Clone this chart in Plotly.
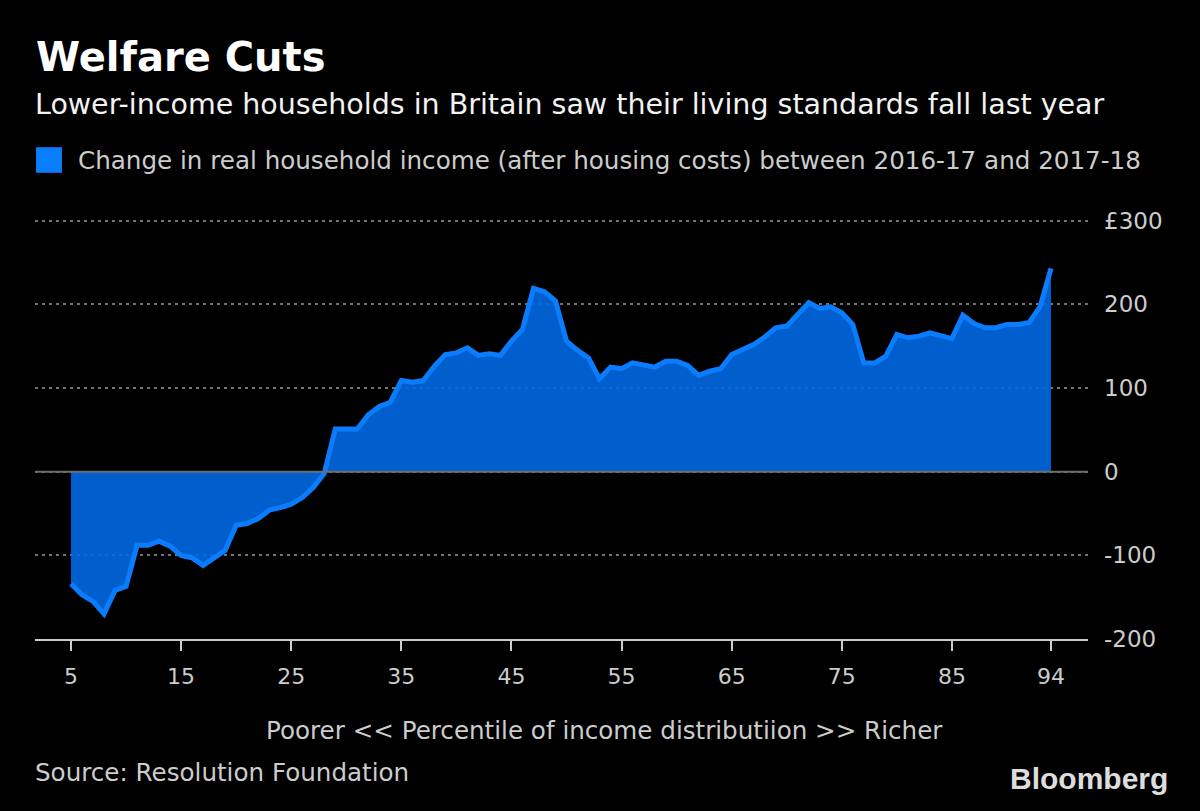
import plotly.graph_objects as go

percentile = list(range(5, 95))
income_change = [
    -134, -147, -155, -170, -142, -137, -88, -88, -83, -89,
    -100, -103, -112, -103, -94, -64, -62, -56, -46, -43,
    -39, -31, -19, -2, 51, 51, 51, 68, 78, 83,
    109, 107, 109, 126, 140, 142, 148, 139, 141, 139,
    156, 170, 219, 215, 204, 156, 145, 136, 111, 125,
    123, 130, 128, 125, 132, 132, 127, 115, 120, 123,
    140, 146, 152, 161, 172, 174, 189, 202, 195, 197,
    190, 176, 130, 130, 138, 164, 160, 162, 166, 162,
    159, 187, 177, 172, 172, 176, 176, 178, 197, 243,
]
x_ticks = [5, 15, 25, 35, 45, 55, 65, 75, 85, 94]
y_ticks = [-200, -100, 0, 100, 200, 300]
y_tick_labels = ["-200", "-100", "0", "100", "200", "£300"]

FONT = "DejaVu Sans"
LINE_BLUE = "#0a7dff"
FILL_BLUE = "rgba(0,104,227,0.9)"

fig = go.Figure()
fig.add_trace(go.Scatter(
    x=percentile, y=income_change, mode="lines",
    line=dict(color=LINE_BLUE, width=5),
    fill="tozeroy", fillcolor=FILL_BLUE,
    hoverinfo="x+y", showlegend=False,
))

ann = []
def text(s, x, y, size, color, xanchor="left", bold=False, family=FONT):
    ann.append(dict(text=f"<b>{s}</b>" if bold else s, x=x, y=y, xref="paper", yref="paper",
                    xanchor=xanchor, yanchor="middle", showarrow=False,
                    font=dict(family=family, size=size, color=color)))

text("Welfare Cuts", -0.001, 1.386, 40, "#ffffff", bold=True)
text("Lower-income households in Britain saw their living standards fall last year", -0.002, 1.272, 28.5, "#f2f2f2")
text("Change in real household income (after housing costs) between 2016-17 and 2017-18", 0.039, 1.140, 24.6, "#cccccc")
text("Poorer &lt;&lt; Percentile of income distributiion &gt;&gt; Richer", 0.541, -0.219, 24.6, "#cccccc", xanchor="center")
text("Source: Resolution Foundation", -0.002, -0.319, 24.6, "#cccccc")
text("Bloomberg", 1.078, -0.331, 30, "#dddddd", xanchor="right", bold=True,
     family="Liberation Sans Narrow, Liberation Sans")

fig.update_layout(
    width=1200, height=811,
    paper_bgcolor="#000000", plot_bgcolor="#000000",
    margin=dict(l=35, r=112, t=219, b=172),
    annotations=ann,
    shapes=[
        dict(type="rect", xref="paper", yref="paper", x0=0.001, x1=0.0256, y0=1.110, y1=1.171,
             fillcolor=LINE_BLUE, line=dict(width=0)),
        dict(type="line", xref="paper", yref="y", x0=0, x1=1, y0=0, y1=0,
             line=dict(color="#6e6e6e", width=2), layer="above"),
    ],
    xaxis=dict(
        range=[1.73, 97.36], tickvals=x_ticks, ticks="outside", ticklen=10, tickwidth=1.5,
        tickcolor="#cccccc", showline=True, linecolor="#cccccc", linewidth=2,
        showgrid=False, zeroline=False, ticklabelstandoff=7,
        tickfont=dict(family=FONT, size=22, color="#cccccc"),
    ),
    yaxis=dict(
        range=[-200, 302], side="right", tickvals=y_ticks, ticktext=y_tick_labels,
        showgrid=True, gridcolor="#737373", gridwidth=2, griddash="3px,4px",
        zeroline=False, showline=False, ticks="", ticklabelstandoff=15,
        tickfont=dict(family=FONT, size=23, color="#cccccc"),
    ),
)

fig.write_html("out.html")
